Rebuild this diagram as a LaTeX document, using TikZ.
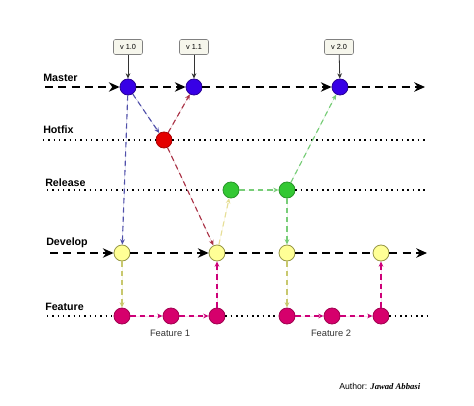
\documentclass[tikz,border=0pt]{standalone}
\usepackage{fontspec}
\setmainfont{Liberation Sans}
\newfontfamily\sigfont{Liberation Serif}
\usetikzlibrary{arrows.meta}
\definecolor{cblue}{RGB}{55,0,230}
\definecolor{cblueD}{RGB}{40,0,150}
\definecolor{cred}{RGB}{228,0,0}
\definecolor{credD}{RGB}{170,0,0}
\definecolor{cgreen}{RGB}{51,200,51}
\definecolor{cgreenD}{RGB}{40,150,40}
\definecolor{cyel}{RGB}{255,255,150}
\definecolor{cyelD}{RGB}{150,150,70}
\definecolor{cmag}{RGB}{214,0,108}
\definecolor{cmagD}{RGB}{160,0,80}
\definecolor{tagfill}{RGB}{246,246,236}
\definecolor{lnblue}{RGB}{80,80,170}
\definecolor{lnred}{RGB}{170,50,70}
\definecolor{lnolive}{RGB}{200,200,110}
\definecolor{lnlyel}{RGB}{230,222,150}
\definecolor{lngreen}{RGB}{120,205,120}
\definecolor{lnmag}{RGB}{205,0,120}
\begin{document}
\begin{tikzpicture}[x=0.75pt,y=-0.75pt,
  commit/.style={circle, minimum size=12pt, inner sep=0pt, line width=0.6pt},
  mnode/.style={commit, fill=cblue, draw=cblueD},
  hnode/.style={commit, fill=cred, draw=credD},
  rnode/.style={commit, fill=cgreen, draw=cgreenD},
  dnode/.style={commit, fill=cyel, draw=cyelD},
  fnode/.style={commit, fill=cmag, draw=cmagD},
  mainline/.style={line width=1.6pt, dash pattern=on 6pt off 4pt},
  mainarrow/.style={mainline, -{Stealth[length=8pt,width=7pt,inset=2.5pt]}},
  dotline/.style={line width=1.1pt, dash pattern=on 1.1pt off 2.9pt},
  conn/.style={line width=0.85pt, dash pattern=on 4pt off 3pt, -{Stealth[length=4pt,width=3.5pt]}},
  tag/.style={draw=gray, fill=tagfill, rounded corners=1.5pt, minimum width=21.75pt, minimum height=11.25pt, inner sep=0pt, font=\fontsize{5.5}{6}\selectfont},
  tagarrow/.style={line width=0.6pt, draw=black!80, -{Stealth[length=4pt,width=3.5pt]}},
  lbl/.style={font=\bfseries\fontsize{8}{9}\selectfont, anchor=west, inner sep=0pt},
  flbl/.style={font=\fontsize{7}{8}\selectfont, text=black!80}]
\useasboundingbox (0,0) rectangle (474,406);

% branch labels
\node[lbl] (lmaster) at (43,78) {Master};
\node[lbl] (lhotfix) at (43,130) {Hotfix};
\node[lbl] (lrelease) at (45,183) {Release};
\node[lbl] (ldevelop) at (46,243) {Develop};
\node[lbl] (lfeature) at (45,307) {Feature};

% line ends
\coordinate (ms) at (45,87);  \coordinate (me) at (425,87);
\coordinate (hs) at (43,140); \coordinate (he) at (425,140);
\coordinate (rs) at (47,190); \coordinate (re) at (428,190);
\coordinate (ds) at (50,253); \coordinate (de) at (427,253);
\coordinate (fs) at (47,316); \coordinate (fe) at (427,316);

% commits
\node[mnode] (m1) at (128,87) {};
\node[mnode] (m2) at (194,87) {};
\node[mnode] (m3) at (340,87) {};
\node[hnode] (h1) at (164,140) {};
\node[rnode] (r1) at (231,190) {};
\node[rnode] (r2) at (287,190) {};
\node[dnode] (d1) at (122,253) {};
\node[dnode] (d2) at (217,253) {};
\node[dnode] (d3) at (287,253) {};
\node[dnode] (d4) at (381,253) {};
\node[fnode] (f1) at (122,316) {};
\node[fnode] (f2) at (171,316) {};
\node[fnode] (f3) at (217,316) {};
\node[fnode] (f4) at (287,316) {};
\node[fnode] (f5) at (332,316) {};
\node[fnode] (f6) at (381,316) {};

% tags
\node[tag] (t1) at (128,47) {v 1.0};
\node[tag] (t2) at (194,47) {v 1.1};
\node[tag] (t3) at (339,47) {v 2.0};
\draw[tagarrow] (t1) -- (m1);
\draw[tagarrow] (t2) -- (m2);
\draw[tagarrow] (t3) -- (m3);

% master
\draw[mainarrow] (ms) -- (m1);
\draw[mainarrow] (m1) -- (m2);
\draw[mainarrow] (m2) -- (m3);
\draw[mainarrow] (m3) -- (me);

% hotfix
\draw[dotline] (hs) -- (h1);
\draw[dotline] (h1) -- (he);

% release
\draw[dotline] (rs) -- (r1);
\draw[dotline] (r2) -- (re);

% develop
\draw[mainarrow] (ds) -- (d1);
\draw[mainarrow] (d1) -- (d2);
\draw[mainline] (d2) -- (d3);
\draw[mainline] (d3) -- (d4);
\draw[mainarrow] (d4) -- (de);

% feature
\draw[dotline] (fs) -- (f1);
\draw[dotline] (f3) -- (f4);
\draw[dotline] (f6) -- (fe);
\draw[conn, draw=lnmag, fill=lnmag] (f1) -- (f2);
\draw[conn, draw=lnmag, fill=lnmag] (f2) -- (f3);
\draw[conn, draw=lnmag, fill=lnmag] (f4) -- (f5);
\draw[conn, draw=lnmag, fill=lnmag] (f5) -- (f6);

% merges
\draw[conn, draw=lnblue, fill=lnblue] (m1) -- (d1);
\draw[conn, draw=lnblue, fill=lnblue] (m1) -- (h1);
\draw[conn, draw=lnred, fill=lnred] (h1) -- (m2);
\draw[conn, draw=lnred, fill=lnred] (h1) -- (d2);
\draw[conn, draw=lnolive, fill=lnolive] (d1) -- (f1);
\draw[conn, draw=lnmag, fill=lnmag] (f3) -- (d2);
\draw[conn, draw=lnlyel, fill=lnlyel] (d2) -- (r1);
\draw[conn, draw=lngreen, fill=lngreen] (r1) -- (r2);
\draw[conn, draw=lngreen, fill=lngreen] (r2) -- (m3);
\draw[conn, draw=lngreen, fill=lngreen] (r2) -- (d3);
\draw[conn, draw=lnolive, fill=lnolive] (d3) -- (f4);
\draw[conn, draw=lnmag, fill=lnmag] (f6) -- (d4);

% feature labels
\node[flbl] (fl1) at (170,333) {Feature 1};
\node[flbl] (fl2) at (331,333) {Feature 2};

% author
\node[anchor=west, inner sep=0pt, font=\fontsize{6.5}{8}\selectfont] (author) at (339,386) {Author: {\sigfont\bfseries\itshape Jawad Abbasi}};
\end{tikzpicture}
\end{document}
